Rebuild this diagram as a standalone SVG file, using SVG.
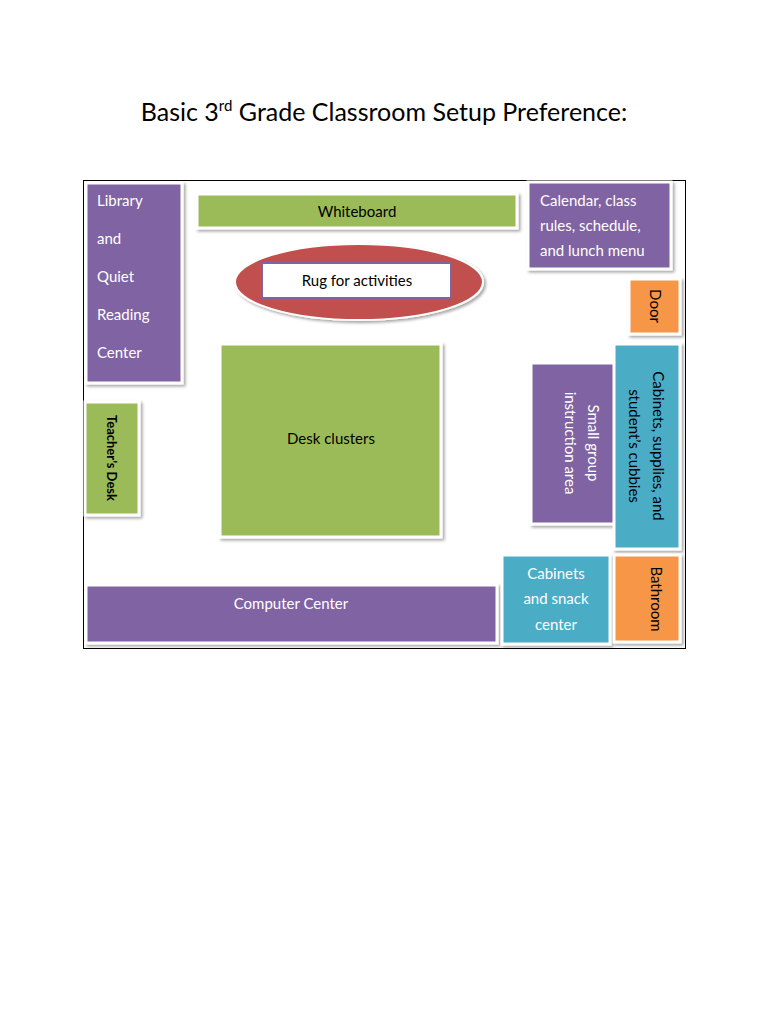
<svg xmlns="http://www.w3.org/2000/svg" width="768" height="1024" viewBox="0 0 768 1024">
<defs>
<filter id="sh" x="-10%" y="-10%" width="130%" height="130%"><feDropShadow dx="2" dy="2" stdDeviation="1.5" flood-color="#000" flood-opacity="0.35"/></filter>
</defs>
<style>
.p{fill:#8064A2}.g{fill:#9BBB59}.o{fill:#F79646}.t{fill:#4BACC6}
.b{stroke:#fff;stroke-width:3;filter:url(#sh)}
text{font-family:Lato,"Open Sans","Liberation Sans",sans-serif;font-size:15px}
.w{fill:#fff}.k{fill:#000}
</style>
<rect width="768" height="1024" fill="#fff"/>
<text x="384" y="121" text-anchor="middle" style="font-size:25px">Basic 3<tspan dy="-10" style="font-size:15px">rd</tspan><tspan dy="10"> Grade Classroom Setup Preference:</tspan></text>
<rect x="83.5" y="180.5" width="602" height="468" fill="none" stroke="#000" stroke-width="1"/>
<g id="library"><rect class="p b" x="86" y="183" width="96" height="200"/>
<text class="w" x="97" y="206">Library</text><text class="w" x="97" y="244">and</text><text class="w" x="97" y="282">Quiet</text><text class="w" x="97" y="320">Reading</text><text class="w" x="97" y="358">Center</text></g>
<g id="whiteboard"><rect class="g b" x="197" y="194" width="320" height="34"/><text class="k" x="357" y="217" text-anchor="middle">Whiteboard</text></g>
<g id="calendar"><rect class="p b" x="528" y="182" width="143" height="87"/>
<text class="w" x="540" y="206">Calendar, class</text><text class="w" x="540" y="231">rules, schedule,</text><text class="w" x="540" y="256">and lunch menu</text></g>
<g id="rug"><ellipse cx="359" cy="282" rx="124" ry="38" fill="#C0504D" stroke="#fff" stroke-width="2" filter="url(#sh)"/>
<rect x="262" y="263" width="189" height="35" fill="#fff" stroke="#8064A2" stroke-width="2"/>
<text class="k" x="357" y="286" text-anchor="middle">Rug for activities</text></g>
<g id="door"><rect class="o b" x="629" y="279" width="51" height="55"/><text class="k" transform="translate(650,306) rotate(90)" text-anchor="middle">Door</text></g>
<g id="desks"><rect class="g b" x="220" y="344" width="221" height="193"/><text class="k" x="331" y="444" text-anchor="middle">Desk clusters</text></g>
<g id="teacher"><rect class="g b" x="85" y="402" width="54" height="113"/><text class="k" transform="translate(107,458) rotate(90)" text-anchor="middle" style="font-size:13px;font-weight:bold">Teacher’s Desk</text></g>
<g id="smallgroup"><rect class="p b" x="531" y="363" width="84" height="161"/>
<text class="w" transform="translate(588,443) rotate(90)" text-anchor="middle">Small group</text>
<text class="w" transform="translate(565,443) rotate(90)" text-anchor="middle">instruction area</text></g>
<g id="cabinets1"><rect class="t b" x="614" y="344" width="66" height="205"/>
<text class="k" transform="translate(653,446) rotate(90)" text-anchor="middle">Cabinets, supplies, and</text>
<text class="k" transform="translate(629,446) rotate(90)" text-anchor="middle">student’s cubbies</text></g>
<g id="computer"><rect class="p b" x="86" y="585" width="411" height="58"/><text class="w" x="291" y="609" text-anchor="middle">Computer Center</text></g>
<g id="cabinets2"><rect class="t b" x="502" y="555" width="108" height="89"/>
<text class="w" x="556" y="579" text-anchor="middle">Cabinets</text><text class="w" x="556" y="604" text-anchor="middle">and snack</text><text class="w" x="556" y="630" text-anchor="middle">center</text></g>
<g id="bathroom"><rect class="o b" x="614" y="555" width="66" height="87"/><text class="k" transform="translate(651,599) rotate(90)" text-anchor="middle">Bathroom</text></g>
</svg>
